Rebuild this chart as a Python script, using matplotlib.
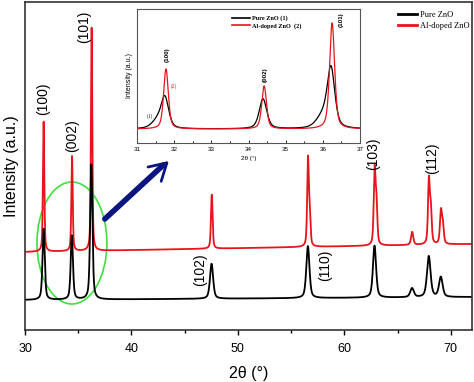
import matplotlib.pyplot as plt
import numpy as np
from matplotlib.patches import Ellipse

plt.rcParams['font.family'] = ['Liberation Sans', 'DejaVu Sans']

# peak tables: position (deg), height above baseline, FWHM (deg)
red_pos = [31.75, 34.42, 36.26, 47.55, 56.59, 56.75, 62.85, 63.02, 66.38, 67.95, 68.13, 69.08, 69.26]
red_h = [130, 95, 223, 54, 86, 30, 73, 40, 13, 63, 33, 32, 18]
red_w = [0.15, 0.15, 0.15, 0.18, 0.18, 0.18, 0.2, 0.2, 0.25, 0.2, 0.2, 0.22, 0.22]
red_base = [78, 86]     # baseline at 30 and 72 deg

black_pos = [31.75, 34.40, 36.23, 47.53, 56.58, 62.84, 66.37, 67.94, 69.07]
black_h = [71, 64, 135, 35, 52, 52, 9, 41, 20]
black_w = [0.25, 0.25, 0.25, 0.35, 0.35, 0.35, 0.4, 0.4, 0.4]
black_base = [30, 33]

# peak labels (hkl), position and height in main axes
hkl = ["(100)", "(002)", "(101)", "(102)", "(110)", "(103)", "(112)"]
hkl_x = [31.69, 34.41, 35.55, 46.43, 58.17, 62.68, 68.22]
hkl_y = [231, 194, 303, 60, 65, 176, 172]

# inset (zoom 31-37 deg)
in_red_pos = [31.78, 34.42, 36.25]
in_red_h = [60, 43, 106]
in_red_w = [0.15, 0.15, 0.16]
in_black_pos = [31.75, 31.55, 34.39, 36.22, 36.0]
in_black_h = [30, 8, 30, 58, 12]
in_black_w = [0.24, 0.35, 0.24, 0.24, 0.4]
in_base = 14

in_hkl = ["(100)", "(002)", "(101)"]
in_hkl_x = [31.81, 34.44, 36.49]
in_hkl_y = [88, 68, 123]


def profile(x, pos, h, w, base):
    y = np.interp(x, [x[0], x[-1]], base) if np.ndim(base) else np.full_like(x, base)
    for p, a, f in zip(pos, h, w):
        d = (x - p) / f
        y = y + a * (0.5 * np.exp(-4 * np.log(2) * d ** 2) + 0.5 / (1 + 4 * d ** 2))
    return y


fig = plt.figure(figsize=(4.74, 3.82), dpi=100)
ax = fig.add_axes([25 / 474, 1 - 330 / 382, 447 / 474, 328 / 382])

x = np.linspace(30, 72, 6000)
ax.plot(x, profile(x, red_pos, red_h, red_w, red_base), color='#e8141c', lw=1.3, label='Al-doped ZnO')
ax.plot(x, profile(x, black_pos, black_h, black_w, black_base), color='black', lw=1.3, label='Pure ZnO')

for t, tx, ty in zip(hkl, hkl_x, hkl_y):
    ax.text(tx, ty, t, rotation=90, ha='center', va='center', fontsize=10)

ax.add_patch(Ellipse((34.41, 87), 6.57, 122, fill=False, ec='#3ee03e', lw=1.2))
ax.annotate('', xy=(43.0, 165), xytext=(37.5, 111),
            arrowprops=dict(arrowstyle='-', lw=4, color='#0a1580', shrinkA=0, shrinkB=0))
ax.annotate('', xy=(43.52, 169), xytext=(42.5, 159),
            arrowprops=dict(arrowstyle='->, head_length=1.2, head_width=0.7', lw=2,
                            color='#0a1580', shrinkA=0, shrinkB=0))

ax.set_xlim(30, 72)
ax.set_ylim(0, 328)
ax.set_xticks([30, 40, 50, 60, 70])
ax.set_xticks([35, 45, 55, 65], minor=True)
ax.set_yticks([])
ax.tick_params(axis='x', which='major', direction='out', length=3.5, width=1, labelsize=9, pad=5.5)
ax.tick_params(axis='x', which='minor', direction='out', length=2.5, width=1)
for s in ax.spines.values():
    s.set_linewidth(1.2)
    s.set_color('#333333')
ax.set_xlabel('2θ (°)', fontsize=11.5, labelpad=8)
ax.set_ylabel('Intensity (a.u.)', fontsize=11.5, labelpad=4)

h, l = ax.get_legend_handles_labels()
leg = ax.legend(h[::-1], l[::-1], loc='upper left', bbox_to_anchor=(0.826, 0.985), frameon=False,
                prop=dict(family='Liberation Serif', size=6), handlelength=2.2, handletextpad=0.4,
                borderpad=0, labelspacing=0.35)
for ln in leg.get_lines():
    ln.set_linewidth(2)

# inset
axi = fig.add_axes([137 / 474, 1 - 143 / 382, 223 / 474, 134 / 382])
xi = np.linspace(31, 37, 3000)
axi.plot(xi, profile(xi, in_black_pos, in_black_h, in_black_w, in_base), color='black', lw=0.9,
         label='Pure ZnO (1)')
axi.plot(xi, profile(xi, in_red_pos, in_red_h, in_red_w, in_base), color='#e8141c', lw=0.9,
         label='Al-doped ZnO  (2)')
for t, tx, ty in zip(in_hkl, in_hkl_x, in_hkl_y):
    axi.text(tx, ty, t, rotation=90, ha='center', va='center', fontsize=4.5, fontweight='bold')
axi.text(32.0, 57, '(2)', color='#e8141c', fontsize=4, family='Liberation Serif', ha='center', va='center')
axi.text(31.35, 27, '(1)', color='#202050', fontsize=4, family='Liberation Serif', ha='center', va='center')
axi.set_xlim(31, 37)
axi.set_ylim(0, 134)
axi.set_yticks([])
axi.set_xticks(range(31, 38))
axi.set_xticks(np.arange(31.5, 37, 1), minor=True)
axi.tick_params(axis='x', which='major', direction='in', length=2.5, width=0.6, labelsize=4.5, pad=3)
axi.tick_params(axis='x', which='minor', direction='in', length=1.5, width=0.6)
for s in axi.spines.values():
    s.set_linewidth(0.8)
    s.set_color('#555555')
axi.set_xlabel('2θ (°)', fontsize=4.5, labelpad=3)
axi.set_ylabel('Intensity (a.u.)', fontsize=5, labelpad=3)
legi = axi.legend(loc='upper left', bbox_to_anchor=(0.41, 0.975), frameon=False,
                  prop=dict(family='Liberation Serif', size=4.5, weight='bold'), handlelength=2.9,
                  handletextpad=0.3, borderpad=0, labelspacing=0.3)
for ln in legi.get_lines():
    ln.set_linewidth(1.2)

fig.savefig('out.png', dpi=100)
